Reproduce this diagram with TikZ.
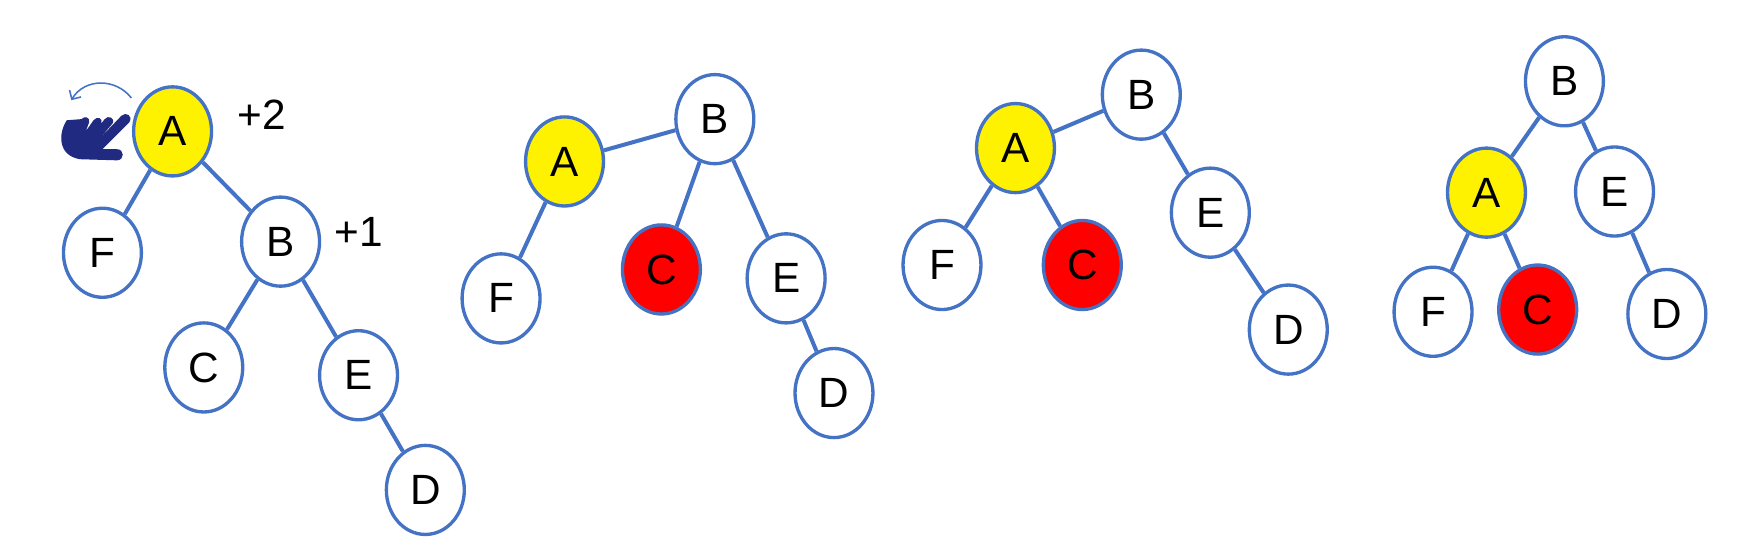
\documentclass[tikz,border=0pt]{standalone}
\usepackage{fontspec}
\setmainfont{Liberation Sans}
\usetikzlibrary{shapes.geometric,arrows.meta}
\definecolor{ln}{HTML}{4472C4}
\definecolor{hand}{HTML}{1F2A80}
\begin{document}
\begin{tikzpicture}[x=1pt,y=-1pt,
  n/.style={ellipse,draw=ln,line width=3pt,minimum width=70pt,minimum height=80pt,inner sep=0pt,fill=white,font=\fontsize{38}{38}\selectfont},
  ye/.style={n,fill=yellow}, re/.style={n,fill=red},
  e/.style={draw=ln,line width=3.6pt},
  lab/.style={font=\fontsize{38}{38}\selectfont}]
\useasboundingbox (0,0) rectangle (1560,486);
% tree 1
\node[ye] (a1) at (155,118) {A};
\node[n] (f1) at (92,227) {F};
\node[n] (b1) at (252,217) {B};
\node[n] (c1) at (183,330) {C};
\node[n] (e1) at (322,337) {E};
\node[n] (d1) at (382,440) {D};
\draw[e] (a1)--(f1) (a1)--(b1) (b1)--(c1) (b1)--(e1) (e1)--(d1);
\node[lab] (p2) at (235,103) {+2};
\node[lab] (p1) at (322,208) {+1};
% hand
\fill[hand] (60,108) .. controls (52,120) and (52,140) .. (72,143)
  -- (105,144) .. controls (112,144) and (112,134) .. (105,134)
  -- (92,134) -- (116,110) .. controls (120,104) and (113,100) .. (109,104)
  -- (88,126) -- (101,111) .. controls (104,106) and (97,103) .. (94,107)
  -- (83,121) -- (91,111) .. controls (93,106) and (87,104) .. (84,108)
  -- (77,118) -- (80,110) .. controls (81,105) and (76,104) .. (73,107) -- cycle;
\draw[ln,line width=1.4pt,-{Straight Barb[length=6pt]}] (118,88) .. controls (104,70) and (76,70) .. (64,90);
% tree 2
\node[ye] (a2) at (507,145) {A};
\node[n] (b2) at (642,107) {B};
\node[n] (f2) at (450,268) {F};
\node[re] (c2) at (594,242) {C};
\node[n] (e2) at (706,250) {E};
\node[n] (d2) at (749,353) {D};
\draw[e] (a2)--(b2) (a2)--(f2) (b2)--(c2) (b2)--(e2) (e2)--(d2);
% tree 3
\node[ye] (a3) at (912,133) {A};
\node[n] (b3) at (1025,85) {B};
\node[n] (f3) at (846,238) {F};
\node[re] (c3) at (972,238) {C};
\node[n] (e3) at (1087,191) {E};
\node[n] (d3) at (1157,296) {D};
\draw[e] (a3)--(b3) (a3)--(f3) (a3)--(c3) (b3)--(e3) (e3)--(d3);
% tree 4
\node[n] (b4) at (1405,73) {B};
\node[ye] (a4) at (1335,173) {A};
\node[n] (e4) at (1450,172) {E};
\node[n] (f4) at (1287,280) {F};
\node[re] (c4) at (1381,278) {C};
\node[n] (d4) at (1497,282) {D};
\draw[e] (b4)--(a4) (b4)--(e4) (a4)--(f4) (a4)--(c4) (e4)--(d4);
\end{tikzpicture}
\end{document}
